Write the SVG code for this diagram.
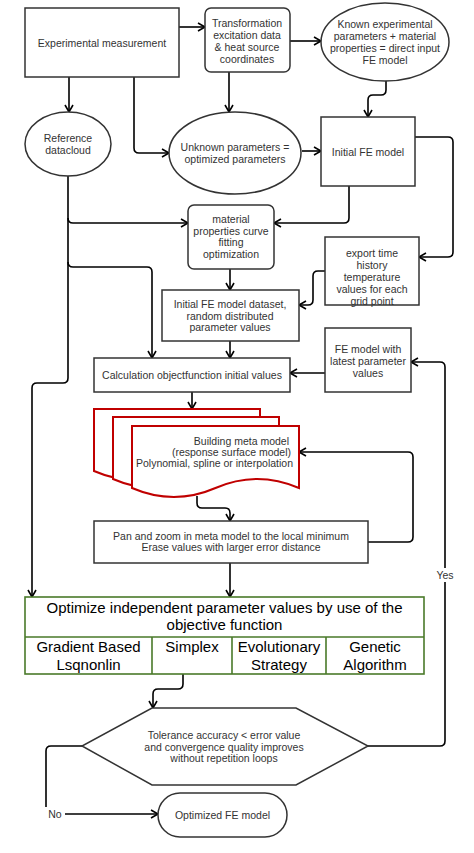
<svg xmlns="http://www.w3.org/2000/svg" width="474" height="853" viewBox="0 0 474 853">
<defs>
<marker id="arr" markerUnits="userSpaceOnUse" markerWidth="10" markerHeight="10" refX="8" refY="4.5" orient="auto" overflow="visible">
<path d="M1,0.5 L8,4.5 L1,8.5" fill="none" stroke="#000" stroke-width="1.6"/>
</marker>
</defs>
<style>
.b{fill:#fff;stroke:#333;stroke-width:1.5}
.r{fill:#fff;stroke:#c00000;stroke-width:2}
.g{fill:#fff;stroke:#4a7a2a;stroke-width:1.6}
.c{fill:none;stroke:#000;stroke-width:1.6;marker-end:url(#arr)}
.cn{fill:none;stroke:#000;stroke-width:1.6}
text{font-family:"Liberation Sans",Arial,sans-serif;font-size:10.5px;fill:#333;text-anchor:middle}
.big{font-size:15px;fill:#000}
.lab{fill:#333}
</style>
<rect width="474" height="853" fill="#fff"/>
<g id="connectors">
<path class="c" d="M179,27 H205"/>
<path class="c" d="M290,41 H321"/>
<path class="c" d="M69,77 V112"/>
<path class="c" d="M134,77 V148 Q134,153 139,153 H169"/>
<path class="c" d="M229,72 V112"/>
<path class="c" d="M386,81 V90 Q386,95 381,95 H373 Q368,95 368,100 V117"/>
<path class="c" d="M302,151 H321"/>
<path class="c" d="M415,137 H448 Q453,137 453,142 V252 Q453,257 448,257 H419"/>
<path class="c" d="M349,186 V218 Q349,223 344,223 H274"/>
<path class="c" d="M68,176 V378 Q68,383 63,383 H37 Q32,383 32,388 V597"/>
<path class="c" d="M68,218 Q68,223 73,223 H188"/>
<path class="c" d="M68,262 Q68,267 73,267 H147 Q152,267 152,272 V358"/>
<path class="c" d="M230,269 V290"/>
<path class="c" d="M325,271 H318 Q313,271 313,276 V300 Q313,305 308,305 H299"/>
<path class="c" d="M230,341 V358"/>
<path class="c" d="M325,373 H290"/>
<path class="c" d="M192,392 V409"/>
<path class="c" d="M197,496 V503 Q197,508 202,508 H225 Q230,508 230,513 V521"/>
<path class="c" d="M368,542 H408 Q413,542 413,537 V457 Q413,452 408,452 H299"/>
<path class="c" d="M230,563 V597"/>
<path class="c" d="M183,674 V684 Q183,689 178,689 H158 Q153,689 153,694 V708"/>
<path class="c" d="M368,746 H440 Q445,746 445,741 V367 Q445,362 440,362 H411"/>
<path class="c" d="M82,746 H51 Q46,746 46,751 V814 H158"/>
<rect x="437" y="568" width="17" height="14" fill="#fff"/>
<text class="lab" x="445" y="579">Yes</text>
<rect x="45" y="807" width="20" height="14" fill="#fff"/>
<text class="lab" x="55" y="818">No</text>
</g>
<g id="experimental">
<rect class="b" x="25" y="8" width="154" height="69"/>
<text x="102" y="46.5">Experimental measurement</text>
</g>
<g id="transformation">
<rect class="b" x="205" y="8" width="85" height="64" rx="6"/>
<text x="247" y="26.7">Transformation</text>
<text x="247" y="38.7">excitation data</text>
<text x="247" y="50.7">&amp; heat source</text>
<text x="247" y="62.7">coordinates</text>
</g>
<g id="known">
<ellipse class="b" cx="385" cy="42" rx="64" ry="39"/>
<text x="385" y="27.7">Known experimental</text>
<text x="385" y="39.7">parameters + material</text>
<text x="385" y="51.7">properties = direct input</text>
<text x="385" y="64.2">FE model</text>
</g>
<g id="reference">
<ellipse class="b" cx="68" cy="144" rx="43" ry="32"/>
<text x="68" y="141.7">Reference</text>
<text x="68" y="153.7">datacloud</text>
</g>
<g id="unknown">
<ellipse class="b" cx="235" cy="153" rx="66" ry="41"/>
<text x="235" y="150.7">Unknown parameters =</text>
<text x="235" y="162.7">optimized parameters</text>
</g>
<g id="initialfe">
<rect class="b" x="321" y="117" width="94" height="69"/>
<text x="368" y="155.7">Initial FE model</text>
</g>
<g id="material">
<rect class="b" x="188" y="205" width="86" height="64" rx="6"/>
<text x="231" y="222.7">material</text>
<text x="231" y="234.7">properties curve</text>
<text x="231" y="246.2">fitting</text>
<text x="231" y="258.2">optimization</text>
</g>
<g id="export">
<rect class="b" x="325" y="237" width="94" height="68"/>
<text x="372" y="256.7">export time</text>
<text x="372" y="268.7">history</text>
<text x="372" y="280.7">temperature</text>
<text x="372" y="292.7">values for each</text>
<text x="372" y="304.7">grid point</text>
</g>
<g id="dataset">
<rect class="b" x="162" y="290" width="137" height="51"/>
<text x="230" y="307.7">Initial FE model dataset,</text>
<text x="230" y="319.7">random distributed</text>
<text x="230" y="330.7">parameter values</text>
</g>
<g id="calculation">
<rect class="b" x="94" y="358" width="196" height="34"/>
<text x="192" y="378.7">Calculation objectfunction initial values</text>
</g>
<g id="felatest">
<rect class="b" x="325" y="328" width="86" height="64"/>
<text x="368" y="352.7">FE model with</text>
<text x="368" y="364.7">latest parameter</text>
<text x="368" y="376.7">values</text>
</g>
<g id="metamodel">
<path class="r" d="M94,409 H260 V471 Q218.5,453 177,471 Q135.5,489 94,471 Z"/>
<path class="r" d="M113,417 H279 V479 Q237.5,461 196,479 Q154.5,497 113,479 Z"/>
<path class="r" d="M132,426 H299 V488 Q257,470 215.5,488 Q174,506 132,488 Z"/>
<text x="289" y="444.7" style="text-anchor:end">Building meta model</text>
<text x="291" y="455.7" style="text-anchor:end">(response surface model)</text>
<text x="293" y="466.7" style="text-anchor:end">Polynomial, spline or interpolation</text>
</g>
<g id="panzoom">
<rect class="b" x="94" y="521" width="274" height="42"/>
<text x="231" y="539.7">Pan and zoom in meta model to the local minimum</text>
<text x="231" y="550.7">Erase values with larger error distance</text>
</g>
<g id="optimize">
<rect class="g" x="25" y="597" width="399" height="77"/>
<path class="g" d="M25,637 H424 M152,637 V674 M232,637 V674 M326,637 V674"/>
<text class="big" x="224.5" y="613.3">Optimize independent parameter values by use of the</text>
<text class="big" x="224.5" y="630.3">objective function</text>
<text class="big" x="88.5" y="652.3">Gradient Based</text>
<text class="big" x="88.5" y="670.3">Lsqnonlin</text>
<text class="big" x="192" y="652.3">Simplex</text>
<text class="big" x="279" y="652.3">Evolutionary</text>
<text class="big" x="279" y="670.3">Strategy</text>
<text class="big" x="375" y="652.3">Genetic</text>
<text class="big" x="375" y="670.3">Algorithm</text>
</g>
<g id="decision">
<polygon class="b" points="152,708 296,708 368,746 296,785 152,785 82,746"/>
<text x="224" y="738.7">Tolerance accuracy &lt; error value</text>
<text x="224" y="750.7">and convergence quality improves</text>
<text x="224" y="761.7">without repetition loops</text>
</g>
<g id="optimizedfe">
<rect class="b" x="158" y="793" width="129" height="44" rx="22"/>
<text x="222.5" y="818.7">Optimized FE model</text>
</g>
</svg>
